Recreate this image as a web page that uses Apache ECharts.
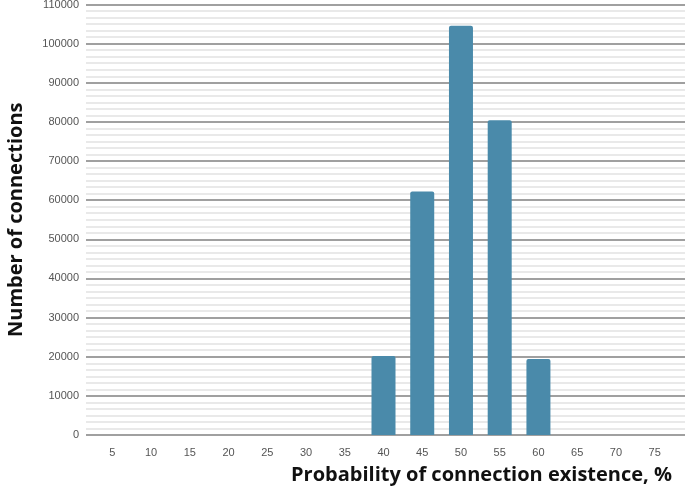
<!DOCTYPE html>
<html>
<head>
<meta charset="utf-8">
<script src="https://cdn.jsdelivr.net/npm/echarts@6/dist/echarts.min.js"></script>
<style>
  html, body { margin: 0; padding: 0; background: #fff; }
  #chart { width: 685px; height: 489px; }
</style>
</head>
<body>
<div id="chart"></div>
<script>
// probability buckets, %
const categories = ['5', '10', '15', '20', '25', '30', '35', '40', '45', '50', '55', '60', '65', '70', '75']
// number of connections per bucket
const connections = [0, 0, 0, 0, 0, 0, 0, 20200, 62200, 104600, 80400, 19400, 0, 0, 0]

const yMin = 0
const yMax = 110000
const yStep = 10000

const chart = echarts.init(document.getElementById('chart'))

chart.setOption({
  animation: false,
  title: {
    text: 'Probability of connection existence, %',
    right: 8,
    top: 460,
    textStyle: {
      fontFamily: 'Open Sans',
      fontWeight: 'bold',
      fontSize: 20,
      color: '#111'
    }
  },
  grid: [
    // background grid: gridlines + y labels
    { left: 86, right: 0, top: 4.5, bottom: 54, outerBoundsMode: 'none', containLabel: false },
    // bars: categories sit a bit inside the gridlines
    { left: 93, width: 581, top: 4.5, bottom: 54, outerBoundsMode: 'none', containLabel: false }
  ],
  xAxis: [
    { gridIndex: 0, type: 'value', min: 0, max: 1, show: false },
    {
      gridIndex: 1,
      type: 'category',
      data: categories,
      axisLine: { show: false },
      axisTick: { show: false },
      axisLabel: {
        color: '#555',
        fontFamily: 'Liberation Sans',
        fontSize: 11,
        margin: 12
      }
    }
  ],
  yAxis: [
    {
      gridIndex: 0,
      type: 'value',
      min: yMin,
      max: yMax,
      interval: yStep,
      name: 'Number of connections',
      nameLocation: 'middle',
      nameRotate: 90,
      nameGap: 60,
      nameTextStyle: {
        fontFamily: 'Open Sans',
        fontWeight: 'bold',
        fontSize: 20,
        color: '#111'
      },
      axisLine: { show: false },
      axisTick: { show: false },
      axisLabel: {
        color: '#555',
        fontFamily: 'Liberation Sans',
        fontSize: 11,
        margin: 7,
        formatter: v => String(v)
      },
      splitLine: { lineStyle: { color: '#808080', width: 1.6 } },
      minorTick: { show: false, splitNumber: 6 },
      minorSplitLine: { show: true, lineStyle: { color: '#e2e2e2', width: 1.6 } }
    },
    {
      gridIndex: 1,
      type: 'value',
      min: yMin,
      max: yMax,
      interval: yStep,
      show: false,
      splitLine: { show: false }
    }
  ],
  series: [
    {
      type: 'bar',
      xAxisIndex: 1,
      yAxisIndex: 1,
      data: connections,
      barWidth: 24,
      itemStyle: {
        color: '#4a8aaa',
        borderRadius: [2, 2, 0, 0]
      }
    }
  ]
})
</script>
</body>
</html>
